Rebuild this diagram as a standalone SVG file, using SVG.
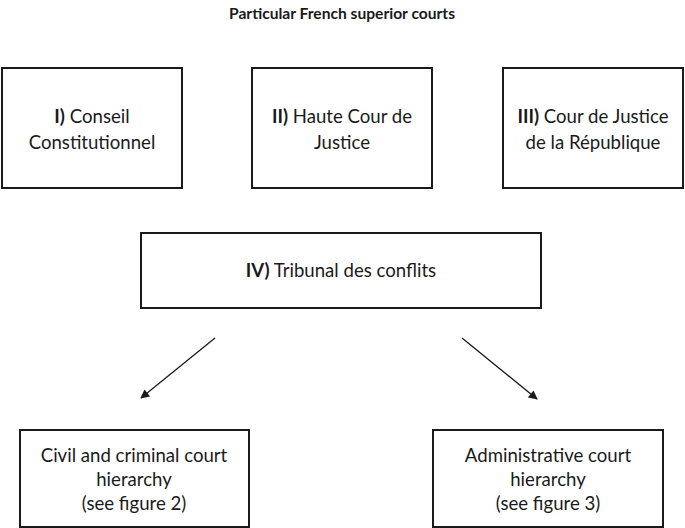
<svg xmlns="http://www.w3.org/2000/svg" width="685" height="528" viewBox="0 0 685 528">
<style>
rect.n{fill:#fff;stroke:#1a1a1a;stroke-width:2}
text{font-family:Lato,"Open Sans",sans-serif;font-size:18.6px;fill:#1a1a1a;text-anchor:middle}
.b{font-weight:bold}
.t{font-size:15.6px}
line{stroke:#1a1a1a;stroke-width:1.3}
</style>
<defs>
<marker id="ah" viewBox="0 0 10 10" refX="9" refY="5" markerWidth="11" markerHeight="9" markerUnits="userSpaceOnUse" orient="auto"><path d="M0,0L10,5L0,10z" fill="#1a1a1a"/></marker>
</defs>
<rect width="685" height="528" fill="#fff"/>
<text class="b t" x="342" y="19">Particular French superior courts</text>
<g id="n1"><rect class="n" x="2" y="68" width="180" height="120"/><text x="92" y="123"><tspan class="b">I)</tspan> Conseil</text><text x="92" y="149">Constitutionnel</text></g>
<g id="n2"><rect class="n" x="252" y="68" width="180" height="120"/><text x="342" y="123"><tspan class="b">II)</tspan> Haute Cour de</text><text x="342" y="149">Justice</text></g>
<g id="n3"><rect class="n" x="503" y="68" width="180" height="120"/><text x="593" y="123"><tspan class="b">III)</tspan> Cour de Justice</text><text x="593" y="149">de la République</text></g>
<g id="n4"><rect class="n" x="141" y="233" width="400" height="75"/><text x="341" y="277"><tspan class="b">IV)</tspan> Tribunal des conflits</text></g>
<g id="n5"><rect class="n" x="20" y="430" width="229" height="97"/><text x="134" y="462">Civil and criminal court</text><text x="134" y="486">hierarchy</text><text x="134" y="510">(see figure 2)</text></g>
<g id="n6"><rect class="n" x="433" y="430" width="230" height="97"/><text x="548" y="462">Administrative court</text><text x="548" y="486">hierarchy</text><text x="548" y="510">(see figure 3)</text></g>
<g id="edges">
<line x1="215" y1="338" x2="141" y2="398" marker-end="url(#ah)"/>
<line x1="462" y1="338" x2="537" y2="399" marker-end="url(#ah)"/>
</g>
</svg>
